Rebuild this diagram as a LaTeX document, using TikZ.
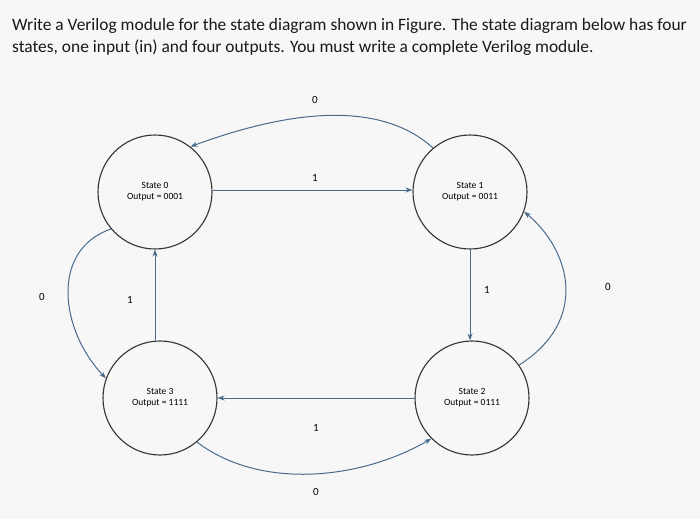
\documentclass[tikz,border=0pt]{standalone}
\usepackage{fontspec}
\setmainfont{Carlito}
\usetikzlibrary{arrows.meta}
\definecolor{ac}{HTML}{4A6A8C}
\begin{document}
\begin{tikzpicture}[x=1pt,y=-1pt,
  st/.style={circle,draw=black!80,line width=1.1pt,minimum size=114pt,align=center,font=\fontsize{9.5}{11}\selectfont,inner sep=0pt},
  con/.style={draw=ac,line width=1pt,-{Stealth[length=7pt,width=5pt]}},
  lb/.style={font=\fontsize{11}{12}\selectfont}]
\fill[gray!6] (0,0) rectangle (700,519);
\useasboundingbox (0,0) rectangle (700,519);
\node[anchor=north west,align=left,font=\fontsize{17.4}{22}\selectfont,text=black!90,inner sep=0pt] (t) at (12,18) {Write a Verilog module for the state diagram shown in Figure. The state diagram below has four\\states, one input (in) and four outputs. You must write a complete Verilog module.};
\node[st] (s0) at (155,192) {State 0\\Output = 0001};
\node[st] (s1) at (470,192) {State 1\\Output = 0011};
\node[st] (s2) at (472,398) {State 2\\Output = 0111};
\node[st] (s3) at (160,398) {State 3\\Output = 1111};
\draw[con] (s0.east |- 0,190) -- (s1.west |- 0,190);
\draw[con] (s1.130) .. controls (380,100) and (290,110) .. (s0.52);
\draw[con] (s1.south) -- (s2.north -| s1.south);
\draw[con] (s2.35) .. controls (590,320) and (570,250) .. (s1.-20);
\draw[con] (s2.west |- 0,398) -- (s3.east |- 0,398);
\draw[con] (s3.-50) .. controls (260,490) and (360,480) .. (s2.-135);
\draw[con] (s3.north -| s0.south) -- (s0.south);
\draw[con] (s0.-140) .. controls (50,250) and (60,330) .. (s3.160);
\node[lb] (l1) at (315,100) {0};
\node[lb] (l2) at (315,178) {1};
\node[lb] (l3) at (487,290) {1};
\node[lb] (l4) at (608,287) {0};
\node[lb] (l5) at (316,428) {1};
\node[lb] (l6) at (316,492) {0};
\node[lb] (l7) at (130,300) {1};
\node[lb] (l8) at (42,297) {0};
\end{tikzpicture}
\end{document}
